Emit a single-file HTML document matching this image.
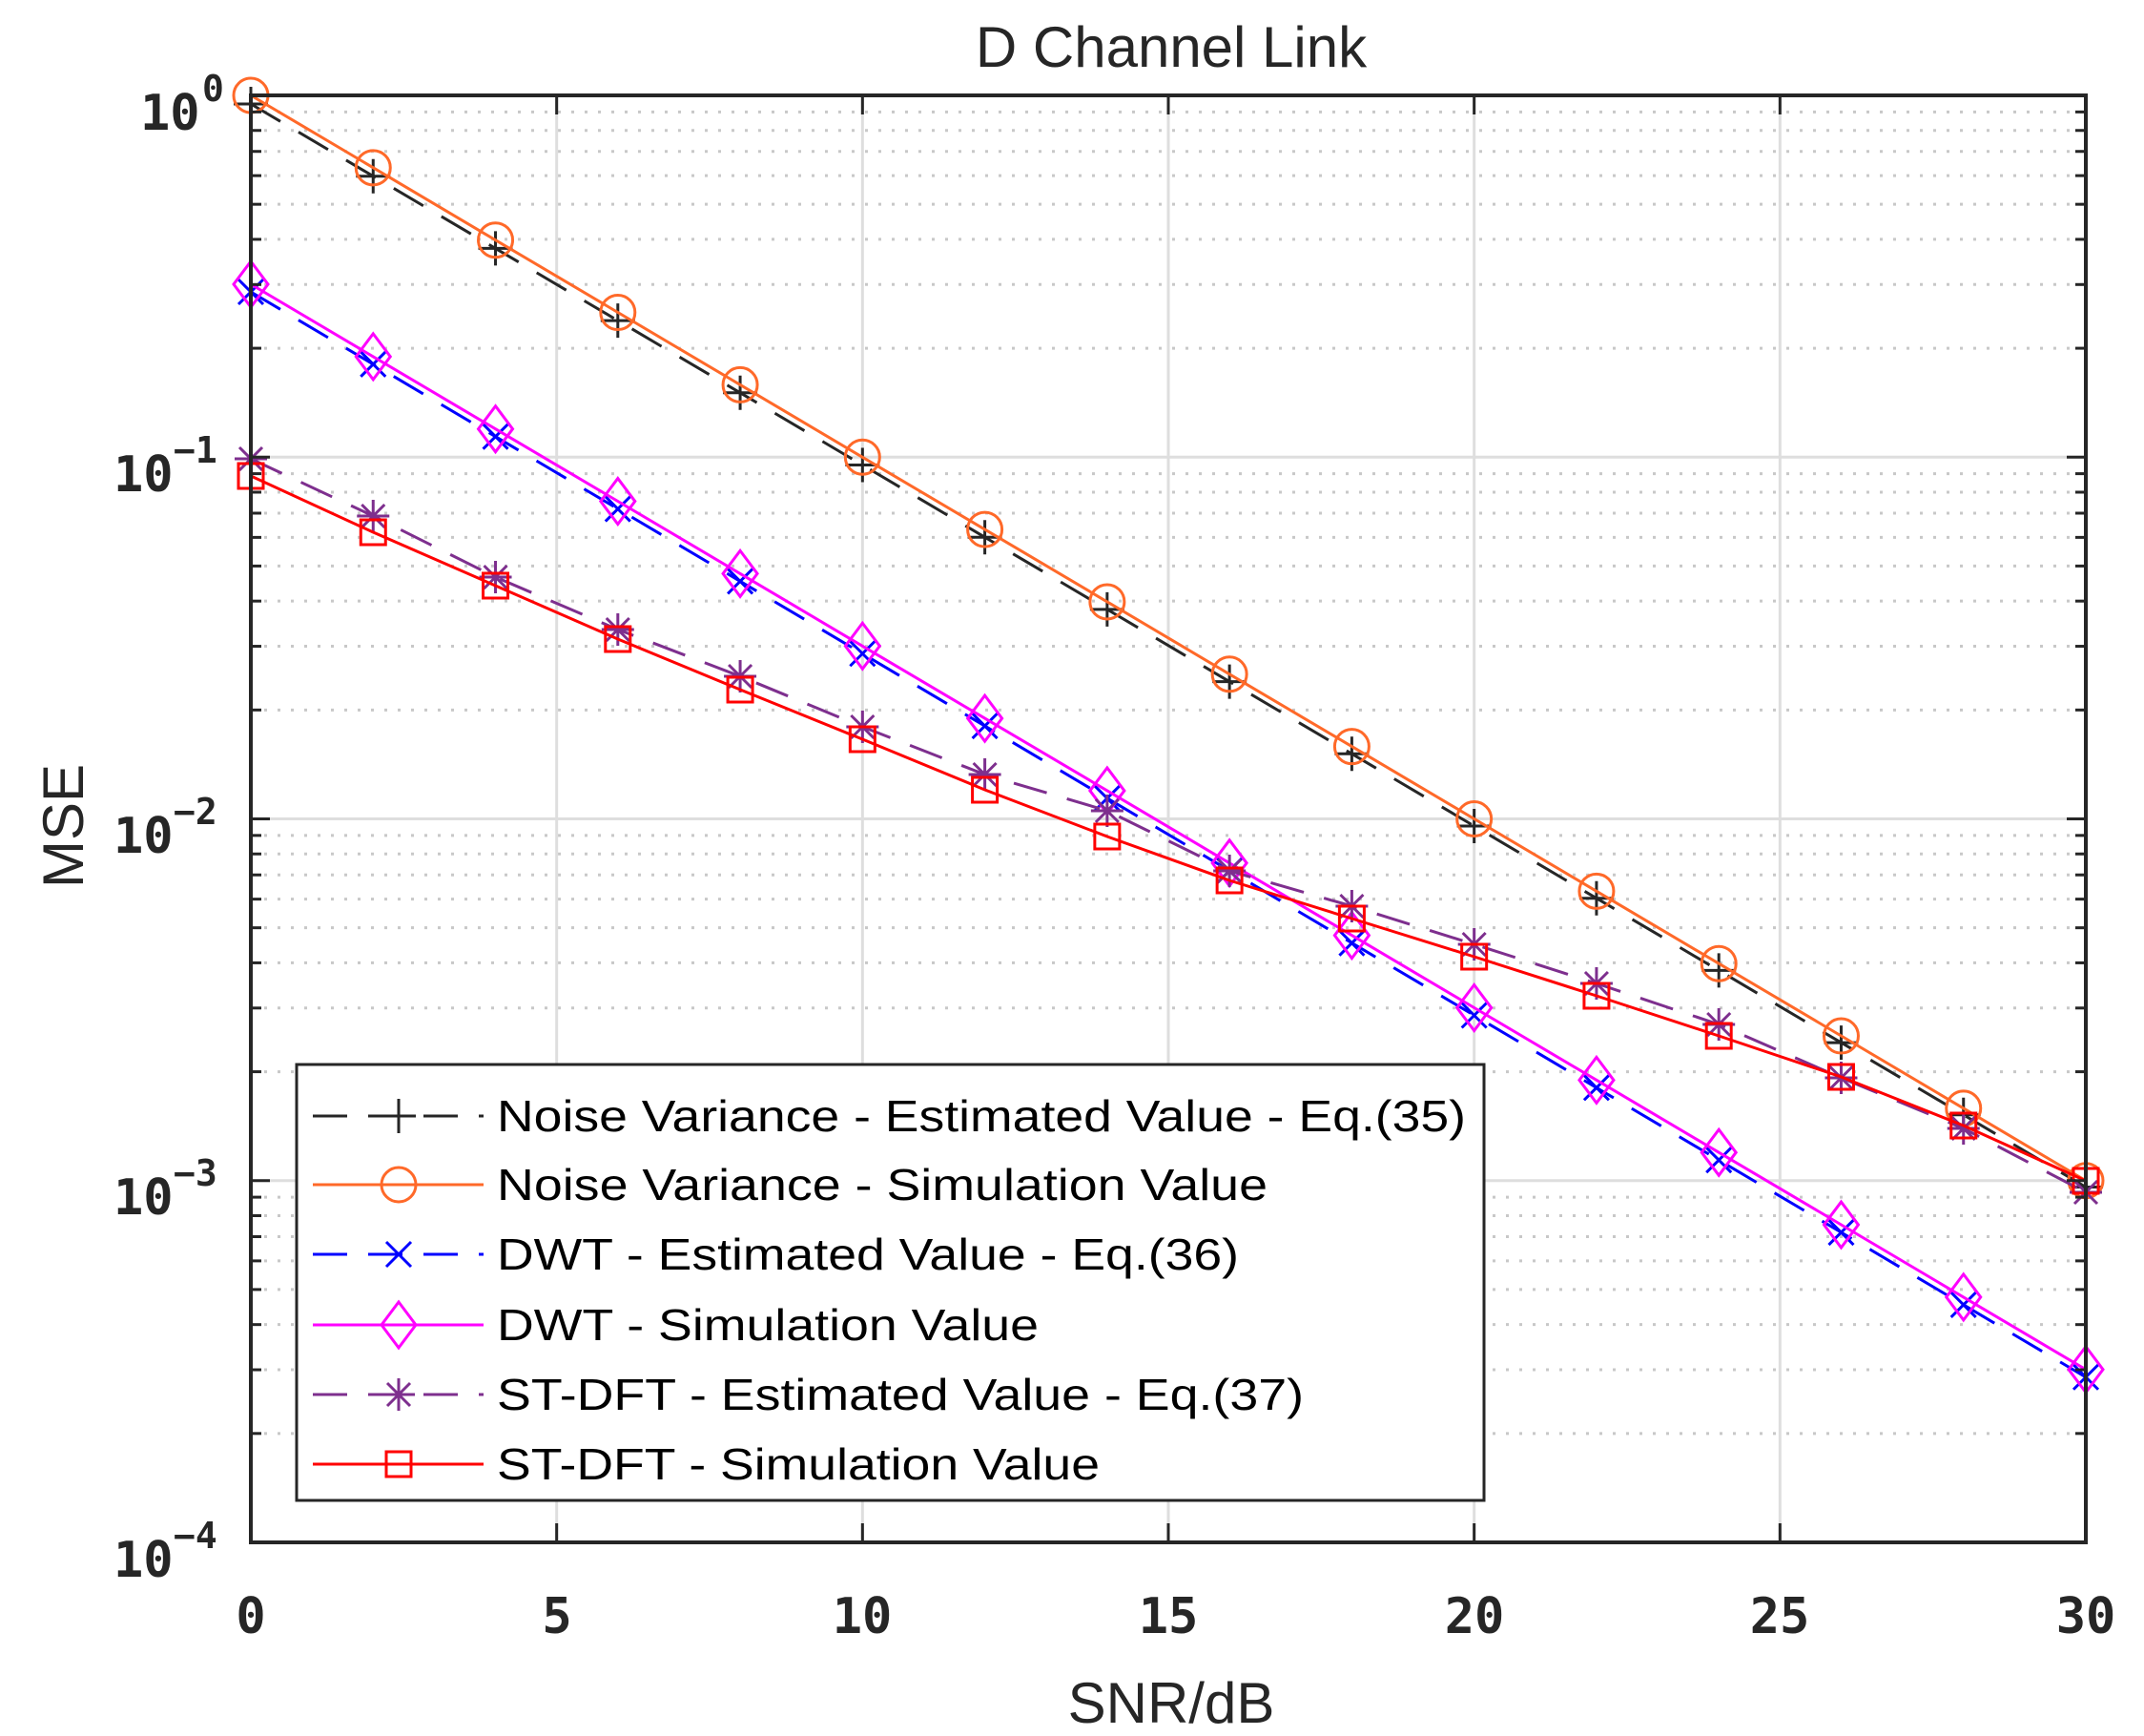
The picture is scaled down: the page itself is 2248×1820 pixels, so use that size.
<!DOCTYPE html>
<html><head><meta charset="utf-8"><style>
html,body{margin:0;padding:0;background:#fff;}
svg{display:block;}
.tk{font-family:"DejaVu Sans Mono","Liberation Mono",monospace;font-weight:bold;fill:#262626;}
.lb{font-family:"Liberation Sans",sans-serif;fill:#262626;}
.lg{font-family:"Liberation Sans",sans-serif;fill:#000;font-size:46px;}
</style></head><body>
<svg id="s" width="2248" height="1820" viewBox="0 0 2248 1820" xmlns="http://www.w3.org/2000/svg">
<rect width="2248" height="1820" fill="#fff"/>
<g id="grid"></g>
<g id="series"></g>
<rect x="263" y="100" width="1924" height="1517" fill="none" stroke="#262626" stroke-width="4"/>
<g id="ticks"></g>
<rect x="311" y="1116" width="1245" height="457" fill="#fff" stroke="#262626" stroke-width="3"/>
<g id="leg"></g>
<text class="lg" x="521" y="1186" textLength="1016" lengthAdjust="spacingAndGlyphs">Noise Variance - Estimated Value - Eq.(35)</text>
<text class="lg" x="521" y="1258" textLength="808" lengthAdjust="spacingAndGlyphs">Noise Variance - Simulation Value</text>
<text class="lg" x="521" y="1331" textLength="778" lengthAdjust="spacingAndGlyphs">DWT - Estimated Value - Eq.(36)</text>
<text class="lg" x="521" y="1405" textLength="568" lengthAdjust="spacingAndGlyphs">DWT - Simulation Value</text>
<text class="lg" x="521" y="1478" textLength="846" lengthAdjust="spacingAndGlyphs">ST-DFT - Estimated Value - Eq.(37)</text>
<text class="lg" x="521" y="1551" textLength="632" lengthAdjust="spacingAndGlyphs">ST-DFT - Simulation Value</text>
<text class="lb" x="1228" y="70" font-size="60" text-anchor="middle" fill="#000">D Channel Link</text>
<text class="lb" x="1228" y="1806" font-size="60" text-anchor="middle">SNR/dB</text>
<text class="lb" x="0" y="0" font-size="60" text-anchor="middle" transform="translate(87,866) rotate(-90)">MSE</text>
<g class="tk" font-size="52" text-anchor="middle">
<text x="263" y="1712">0</text>
<text x="584" y="1712">5</text>
<text x="904" y="1712">10</text>
<text x="1225" y="1712">15</text>
<text x="1546" y="1712">20</text>
<text x="1866" y="1712">25</text>
<text x="2187" y="1712">30</text>
</g>
<g class="tk">
<text x="147" y="136" font-size="52">10</text><text x="212" y="106" font-size="38">0</text>
<text x="119" y="515" font-size="52">10</text><text x="182" y="485" font-size="38">−1</text>
<text x="119" y="894" font-size="52">10</text><text x="182" y="864" font-size="38">−2</text>
<text x="119" y="1273" font-size="52">10</text><text x="182" y="1243" font-size="38">−3</text>
<text x="119" y="1653" font-size="52">10</text><text x="182" y="1623" font-size="38">−4</text>
</g>
</svg>
<script>
(function(){
var NS="http://www.w3.org/2000/svg";
var L=263,R=2187,T=100,B=1617,D=379.25,XS=(R-L)/30;
function el(p,n,a){var e=document.createElementNS(NS,n);for(var k in a)e.setAttribute(k,a[k]);p.appendChild(e);return e;}
var g=document.getElementById('grid'),tk=document.getElementById('ticks');
for(var d=0;d<4;d++)for(var m=2;m<=9;m++){var y=T+D*(d+1)-D*Math.log10(m);
 el(g,'line',{x1:L,x2:R,y1:y,y2:y,stroke:'#c8c8c8','stroke-width':3,'stroke-dasharray':'3 11'});
 el(tk,'line',{x1:L,x2:L+11,y1:y,y2:y,stroke:'#262626','stroke-width':3});
 el(tk,'line',{x1:R,x2:R-11,y1:y,y2:y,stroke:'#262626','stroke-width':3});}
for(var d=1;d<4;d++){var y=T+D*d;el(g,'line',{x1:L,x2:R,y1:y,y2:y,stroke:'#dedede','stroke-width':3});
 el(tk,'line',{x1:L,x2:L+20,y1:y,y2:y,stroke:'#262626','stroke-width':3});
 el(tk,'line',{x1:R,x2:R-20,y1:y,y2:y,stroke:'#262626','stroke-width':3});}
for(var i=1;i<6;i++){var x=L+i*5*XS;el(g,'line',{x1:x,x2:x,y1:T,y2:B,stroke:'#dedede','stroke-width':3});
 el(tk,'line',{x1:x,x2:x,y1:T,y2:T+20,stroke:'#262626','stroke-width':3});
 el(tk,'line',{x1:x,x2:x,y1:B,y2:B-20,stroke:'#262626','stroke-width':3});}
var s=document.getElementById('series');
function lin(a,b){var r=[];for(var i=0;i<16;i++)r.push(a+b*2*i);return r;}
var series=[
 {c:'#262626',dash:true,m:'+',y:lin(109,37.85)},
 {c:'#FF6929',dash:false,m:'o',y:lin(100,37.925)},
 {c:'#0000FF',dash:true,m:'x',y:lin(306,37.925)},
 {c:'#FF00FF',dash:false,m:'d',y:lin(298,37.925)},
 {c:'#7E2F8E',dash:true,m:'*',y:[481,541,605,660,709,762,812,850,913,950,990,1031,1074,1130,1183,1250]},
 {c:'#FF0000',dash:false,m:'s',y:[499,558,614,670,723,775,828,877,923,963,1003,1044,1086,1129,1180,1238]}
];
function marker(p,t,x,y,c){var a={fill:'none',stroke:c,'stroke-width':3};
 if(t=='+'){el(p,'path',Object.assign({d:'M'+(x-18)+' '+y+'H'+(x+18)+'M'+x+' '+(y-18)+'V'+(y+18)},a));}
 else if(t=='o'){el(p,'circle',Object.assign({cx:x,cy:y,r:18},a));}
 else if(t=='x'){el(p,'path',Object.assign({d:'M'+(x-13)+' '+(y-13)+'L'+(x+13)+' '+(y+13)+'M'+(x-13)+' '+(y+13)+'L'+(x+13)+' '+(y-13)},a));}
 else if(t=='d'){el(p,'path',Object.assign({d:'M'+x+' '+(y-24)+'L'+(x+18)+' '+y+'L'+x+' '+(y+24)+'L'+(x-18)+' '+y+'Z'},a));}
 else if(t=='*'){el(p,'path',Object.assign({d:'M'+(x-17)+' '+y+'H'+(x+17)+'M'+x+' '+(y-17)+'V'+(y+17)+'M'+(x-12)+' '+(y-12)+'L'+(x+12)+' '+(y+12)+'M'+(x-12)+' '+(y+12)+'L'+(x+12)+' '+(y-12)},a));}
 else if(t=='s'){el(p,'rect',Object.assign({x:x-13,y:y-13,width:26,height:26},a));}
}
series.forEach(function(se){var pts=se.y.map(function(v,i){return (L+i*2*XS).toFixed(1)+','+v.toFixed(1);}).join(' ');
 var a={points:pts,fill:'none',stroke:se.c,'stroke-width':3};if(se.dash)a['stroke-dasharray']='36 22';
 el(s,'polyline',a);se.y.forEach(function(v,i){marker(s,se.m,L+i*2*XS,v,se.c);});});
var lg=document.getElementById('leg');var ys=[1170,1242,1315,1389,1462,1535];
series.forEach(function(se,i){var a={x1:328,x2:507,y1:ys[i],y2:ys[i],stroke:se.c,'stroke-width':3};if(se.dash)a['stroke-dasharray']='36 22';
 el(lg,'line',a);marker(lg,se.m,418,ys[i],se.c);});
})();
</script>
</body></html>
